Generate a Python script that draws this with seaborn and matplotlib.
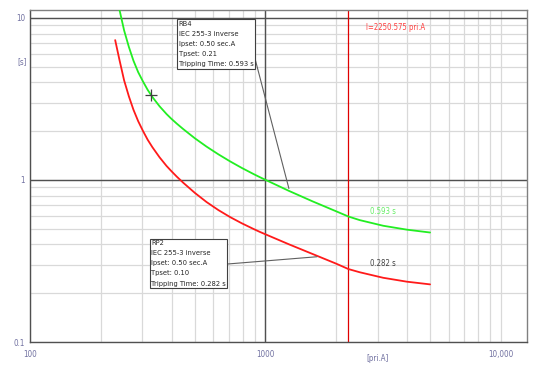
import numpy as np
import pandas as pd
import matplotlib
matplotlib.use('Agg')
import matplotlib.pyplot as plt
import seaborn as sns
from matplotlib.ticker import NullFormatter

# curve points (primary amps, seconds)
rb4_current = [230, 240, 251, 263, 275, 288, 302, 316, 327, 331, 355, 380, 398, 420, 447, 501, 562, 631, 708, 794,
               891, 945, 1000, 1259, 1585, 1995, 2250, 2512, 3162, 3981, 5000]
rb4_time = [15.7, 11.2, 8.38, 6.62, 5.45, 4.63, 4.05, 3.60, 3.34, 3.25, 2.85, 2.553, 2.39, 2.228, 2.064, 1.81, 1.607, 1.44, 1.302, 1.186,
            1.087, 1.042, 1.002, 0.856, 0.738, 0.641, 0.595, 0.5655, 0.5218, 0.4937, 0.474]
rp2_current = [230, 240, 251, 263, 275, 288, 302, 316, 331, 355, 380, 398, 420, 447, 501, 562, 631, 708, 794, 891,
               945, 1000, 1259, 1585, 1995, 2250, 2512, 3162, 3981, 5000]
rp2_time = [7.3, 5.485, 4.12, 3.28, 2.714, 2.307, 2.004, 1.772, 1.593, 1.38, 1.221, 1.136, 1.049, 0.963, 0.833, 0.731, 0.652, 0.59, 0.54, 0.498,
            0.4786, 0.462, 0.4006, 0.3493, 0.3046, 0.282, 0.2695, 0.2491, 0.2357, 0.2268]

fault_current = 2250.575
rb4_trip = 0.593
rp2_trip = 0.282
marker_point = (327, 3.35)

rb4_text = ['RB4', 'IEC 255-3 inverse', 'Ipset: 0.50 sec.A', 'Tpset: 0.21', 'Tripping Time: 0.593 s']
rp2_text = ['RP2', 'IEC 255-3 inverse', 'Ipset: 0.50 sec.A', 'Tpset: 0.10', 'Tripping Time: 0.282 s']

x_ticks = [100, 1000, 10000]
x_tick_labels = ['100', '1000', '10,000']
y_ticks = [0.1, 1, 10]
y_tick_labels = ['0.1', '1', '10']

df = pd.concat([
    pd.DataFrame({'current': rb4_current, 'time': rb4_time, 'relay': 'RB4'}),
    pd.DataFrame({'current': rp2_current, 'time': rp2_time, 'relay': 'RP2'}),
])

sns.set_style('white')
plt.rcParams['font.family'] = ['DejaVu Sans']
plt.rcParams['font.stretch'] = 'condensed'

fig = plt.figure(figsize=(5.5, 3.66), dpi=100)
ax = fig.add_axes([30 / 550, 1 - 342 / 366, 497 / 550, 332 / 366])

ax.set_xscale('log')
ax.set_yscale('log')
ax.set_xlim(100, 12900)
ax.set_ylim(0.1, 11.2)

# grid: light minors, dark decade lines
ax.grid(which='both', color='#d9d9d9', lw=0.9)
ax.axhline(1, color='#505050', lw=1, zorder=1)
ax.axhline(10, color='#505050', lw=1, zorder=1)
ax.axvline(1000, color='#505050', lw=1, zorder=1)

sns.lineplot(data=df, x='current', y='time', hue='relay', palette={'RB4': '#22ee22', 'RP2': '#ff1a1a'},
             legend=False, linewidth=1.3, ax=ax, zorder=3)

ax.axvline(fault_current, color='#e00000', lw=0.9, zorder=2)
ax.text(2673, 8.76, f'I={fault_current} pri.A', color='#ff4040', fontsize=5.6, va='center', ha='left')
ax.text(2786, 0.637, f'{rb4_trip} s', color='#66ee66', fontsize=5.6, va='center', ha='left')
ax.text(2786, 0.306, f'{rp2_trip} s', color='#404040', fontsize=5.6, va='center', ha='left')

ax.plot(*marker_point, marker='+', color='#404040', markersize=9, mew=0.9, zorder=4)

box = dict(boxstyle='square,pad=0.2', fc='white', ec='#404040', lw=0.8)
ax.text(428, 9.6, '\n'.join(rb4_text), fontsize=5.4, va='top', ha='left', bbox=box, zorder=5, linespacing=1.82)
ax.text(327, 0.425, '\n'.join(rp2_text), fontsize=5.4, va='top', ha='left', bbox=box, zorder=5, linespacing=1.82)
ax.annotate('', xy=(1266, 0.853), xytext=(874, 6.72),
            arrowprops=dict(arrowstyle='-', color='#606060', lw=0.8), zorder=4)
ax.annotate('', xy=(1700, 0.337), xytext=(671, 0.302),
            arrowprops=dict(arrowstyle='-', color='#606060', lw=0.8), zorder=4)

ax.set_xticks(x_ticks, x_tick_labels)
ax.set_yticks(y_ticks, y_tick_labels)
ax.xaxis.set_minor_formatter(NullFormatter())
ax.yaxis.set_minor_formatter(NullFormatter())
ax.tick_params(which='both', direction='in', length=2, color='#303030', labelsize=5.8, labelcolor='#7070a0')
ax.tick_params(axis='x', pad=6)

ax.set_xlabel('[pri.A]', fontsize=5.8, color='#7070a0')
ax.xaxis.set_label_coords(0.70, -0.035)
ax.set_ylabel('[s]', fontsize=5.8, color='#7070a0', rotation=0)
ax.yaxis.set_label_coords(-0.016, 0.83)

for side in ['top', 'right']:
    ax.spines[side].set_color('#808080')
for side in ['left', 'bottom']:
    ax.spines[side].set_color('#505050')
for sp in ax.spines.values():
    sp.set_linewidth(1)

fig.savefig('out.png', dpi=100)
